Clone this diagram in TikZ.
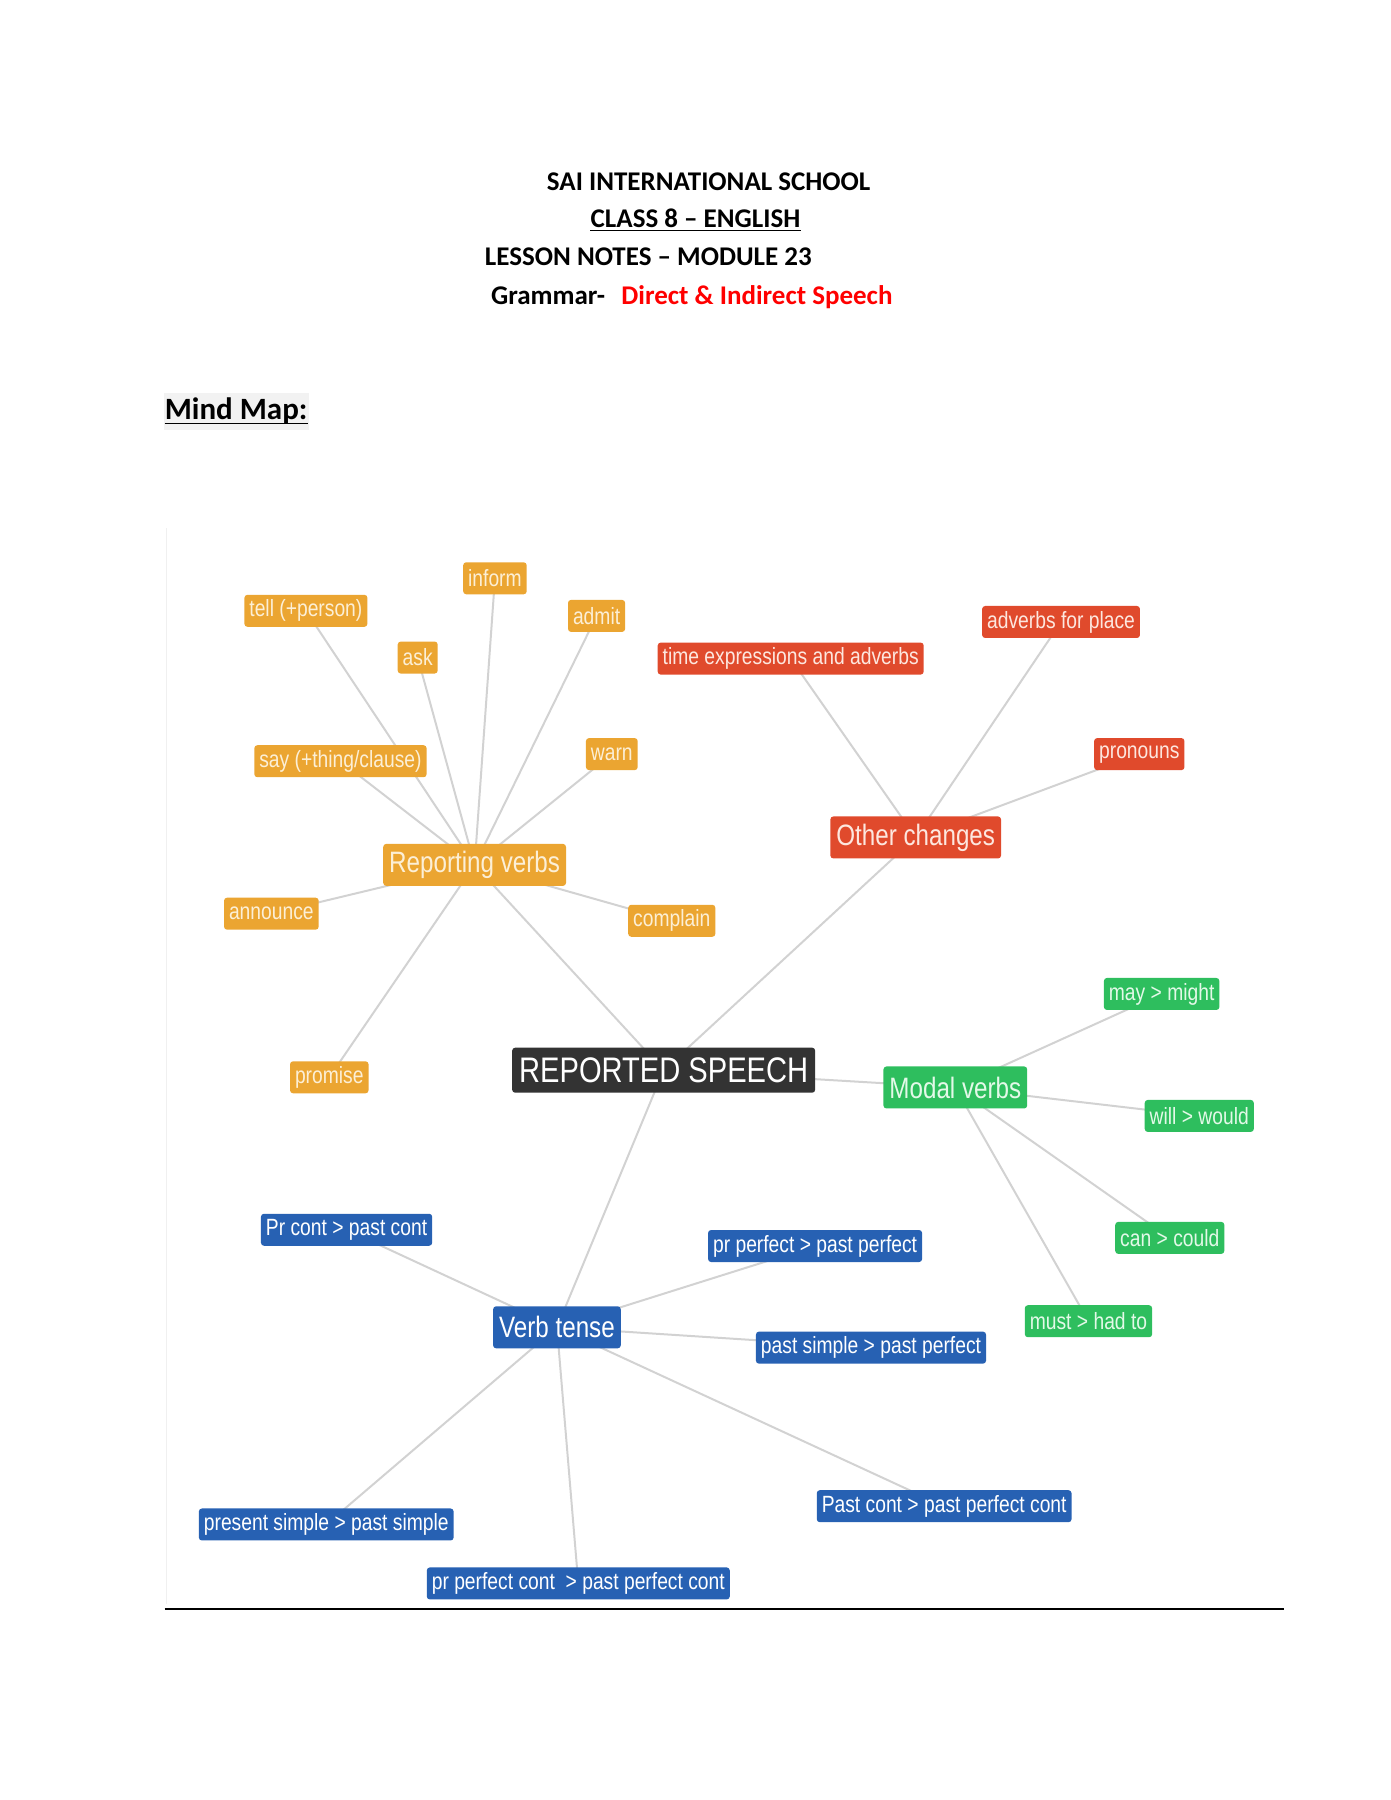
\documentclass[tikz,border=0pt]{standalone}
\usepackage{fontspec}
\setmainfont{Carlito}
\newfontfamily\mapfont[FakeStretch=0.82]{Liberation Sans}
\usepackage{xcolor}
\usetikzlibrary{backgrounds}

\definecolor{rvorange}{HTML}{EBA531}
\definecolor{rvtext}{HTML}{FCEFD6}
\definecolor{ocred}{HTML}{E04A2C}
\definecolor{octext}{HTML}{FDE7DF}
\definecolor{mvgreen}{HTML}{2EBE5E}
\definecolor{mvtext}{HTML}{E3F9E8}
\definecolor{vtblue}{HTML}{2761B3}
\definecolor{centergray}{HTML}{333333}
\definecolor{edgegray}{HTML}{D2D2D2}
\definecolor{headred}{HTML}{FF0000}

\tikzset{
  head/.style={anchor=base west, inner sep=0pt, font=\bfseries\fontsize{27}{31}\selectfont},
  leaf/.style={rounded corners=3pt, inner xsep=5pt, inner ysep=3pt, minimum height=32pt,
    font=\mapfont\fontsize{23.5}{25}\selectfont},
  branch/.style={rounded corners=3pt, inner xsep=6pt, inner ysep=3pt, minimum height=42pt,
    font=\mapfont\fontsize{29.5}{32}\selectfont},
  rvleaf/.style={leaf, fill=rvorange, text=rvtext},
  ocleaf/.style={leaf, fill=ocred, text=octext},
  mvleaf/.style={leaf, fill=mvgreen, text=mvtext},
  vtleaf/.style={leaf, fill=vtblue, text=white},
  link/.style={draw=edgegray, line width=2pt}
}

\begin{document}
\begin{tikzpicture}[x=1.0163pt, y=-1.0163pt]
  \useasboundingbox (0,0) rectangle (1367.7,1771.1);

  % Page heading
  \node[head] (school) at (538,187) {SAI INTERNATIONAL SCHOOL};
  \node[head] (class) at (581,224) {CLASS 8 -- ENGLISH};
  \draw[line width=1.5pt] ([yshift=-3pt]class.base west) -- ([yshift=-3pt]class.base east);
  \node[head] (lesson) at (477,261) {LESSON NOTES -- MODULE 23};
  \node[head] (grammar) at (483,300) {Grammar-\hspace{0.6em}\textcolor{headred}{Direct \& Indirect Speech}};

  % Mind map title
  \node[anchor=base west, inner sep=0pt, font=\bfseries\fontsize{31}{35}\selectfont] (mindmap) at (162,413) {Mind Map:};
  \begin{scope}[on background layer]
    \fill[gray!10] ([xshift=-1pt,yshift=-5pt]mindmap.south west) rectangle ([xshift=1pt,yshift=5pt]mindmap.north east);
  \end{scope}
  \draw[line width=1.5pt] ([yshift=-4pt]mindmap.base west) -- ([yshift=-4pt]mindmap.base east);

  % Frame of the map
  \draw[gray!12, line width=1pt] (164,520) -- (164,1578);
  \draw[line width=2pt] (162,1583) -- (1263,1583);

  % Centre
  \node[rounded corners=3pt, fill=centergray, text=white, inner xsep=7pt, minimum height=45pt,
    font=\mapfont\fontsize{35.5}{38}\selectfont] (speech) at (653,1053) {REPORTED SPEECH};

  % Reporting verbs
  \node[branch, fill=rvorange, text=rvtext] (reporting) at (467,851) {Reporting verbs};
  \node[rvleaf] (tell) at (301,601) {tell (+person)};
  \node[rvleaf] (inform) at (487,569) {inform};
  \node[rvleaf] (admit) at (587,606) {admit};
  \node[rvleaf] (ask) at (411,647) {ask};
  \node[rvleaf] (say) at (335,749) {say (+thing/clause)};
  \node[rvleaf] (warn) at (602,742) {warn};
  \node[rvleaf] (announce) at (267,899) {announce};
  \node[rvleaf] (complain) at (661,906) {complain};
  \node[rvleaf] (promise) at (324,1060) {promise};

  % Other changes
  \node[branch, fill=ocred, text=octext] (other) at (901,824) {Other changes};
  \node[ocleaf] (time) at (778,648) {time expressions and adverbs};
  \node[ocleaf] (place) at (1044,612) {adverbs for place};
  \node[ocleaf] (pronouns) at (1121,742) {pronouns};

  % Modal verbs
  \node[branch, fill=mvgreen, text=mvtext] (modal) at (940,1070) {Modal verbs};
  \node[mvleaf] (may) at (1143,978) {may > might};
  \node[mvleaf] (will) at (1180,1098) {will > would};
  \node[mvleaf] (can) at (1151,1218) {can > could};
  \node[mvleaf] (must) at (1071,1300) {must > had to};

  % Verb tense
  \node[branch, fill=vtblue, text=white] (tense) at (548,1306) {Verb tense};
  \node[vtleaf] (prcont) at (341,1210) {Pr cont > past cont};
  \node[vtleaf] (prperf) at (802,1226) {pr perfect > past perfect};
  \node[vtleaf] (pastsimple) at (857,1326) {past simple > past perfect};
  \node[vtleaf] (pastcont) at (929,1482) {Past cont > past perfect cont};
  \node[vtleaf] (presimple) at (321,1500) {present simple > past simple};
  \node[vtleaf] (prperfcont) at (569,1558) {pr perfect cont \ > past perfect cont};

  % Links, behind the boxes
  \begin{scope}[on background layer]
    \draw[link] (speech.center) -- (reporting.center);
    \draw[link] (speech.center) -- (other.center);
    \draw[link] (speech.center) -- (modal.center);
    \draw[link] (speech.center) -- (tense.center);

    \draw[link] (reporting.center) -- (tell.center);
    \draw[link] (reporting.center) -- (inform.center);
    \draw[link] (reporting.center) -- (admit.center);
    \draw[link] (reporting.center) -- (ask.center);
    \draw[link] (reporting.center) -- (say.center);
    \draw[link] (reporting.center) -- (warn.center);
    \draw[link] (reporting.center) -- (announce.center);
    \draw[link] (reporting.center) -- (complain.center);
    \draw[link] (reporting.center) -- (promise.center);

    \draw[link] (other.center) -- (time.center);
    \draw[link] (other.center) -- (place.center);
    \draw[link] (other.center) -- (pronouns.center);

    \draw[link] (modal.center) -- (may.center);
    \draw[link] (modal.center) -- (will.center);
    \draw[link] (modal.center) -- (can.center);
    \draw[link] (modal.center) -- (must.center);

    \draw[link] (tense.center) -- (prcont.center);
    \draw[link] (tense.center) -- (prperf.center);
    \draw[link] (tense.center) -- (pastsimple.center);
    \draw[link] (tense.center) -- (pastcont.center);
    \draw[link] (tense.center) -- (presimple.center);
    \draw[link] (tense.center) -- (prperfcont.center);
  \end{scope}
\end{tikzpicture}
\end{document}
